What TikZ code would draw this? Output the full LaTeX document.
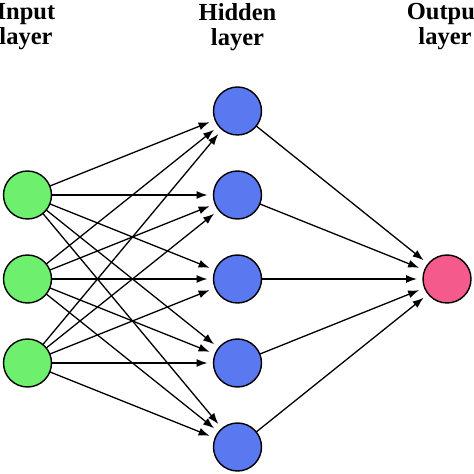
\documentclass[tikz,border=0pt]{standalone}
\usepackage{fontspec}
\setmainfont{Liberation Serif}
\usetikzlibrary{arrows.meta}
\definecolor{ingreen}{RGB}{110,240,110}
\definecolor{hidblue}{RGB}{90,120,240}
\definecolor{outpink}{RGB}{245,90,140}
\begin{document}
\begin{tikzpicture}[x=1pt,y=1pt,
  neuron/.style={circle,draw=black,line width=1.4pt,minimum size=48pt,inner sep=0pt,outer sep=0pt},
  inneuron/.style={neuron,fill=ingreen},
  hidneuron/.style={neuron,fill=hidblue},
  outneuron/.style={neuron,fill=outpink},
  conn/.style={line width=1.3pt,-{Latex[length=11pt,width=8pt]},shorten >=6pt},
  lbl/.style={align=center,anchor=north,inner sep=0pt,font=\fontsize{24.5}{25}\selectfont\bfseries}]
\useasboundingbox (0,0) rectangle (474,474);
\node[lbl] (linput) at (26,471) {Input\\layer};
\node[lbl] (lhidden) at (237.5,471) {Hidden\\layer};
\node[lbl] (loutput) at (445,471) {Output\\layer};
\node[inneuron] (i1) at (27.5,279) {};
\node[inneuron] (i2) at (27.5,195) {};
\node[inneuron] (i3) at (27.5,111) {};
\node[hidneuron] (h1) at (237.5,363) {};
\node[hidneuron] (h2) at (237.5,279) {};
\node[hidneuron] (h3) at (237.5,195) {};
\node[hidneuron] (h4) at (237.5,111) {};
\node[hidneuron] (h5) at (237.5,27) {};
\node[outneuron] (o1) at (447,195) {};
\foreach \i in {1,2,3}{
  \foreach \h in {1,...,5}{
    \draw[conn] (i\i) -- (h\h);
  }
}
\foreach \h in {1,...,5}{
  \draw[conn] (h\h) -- (o1);
}
\end{tikzpicture}
\end{document}
